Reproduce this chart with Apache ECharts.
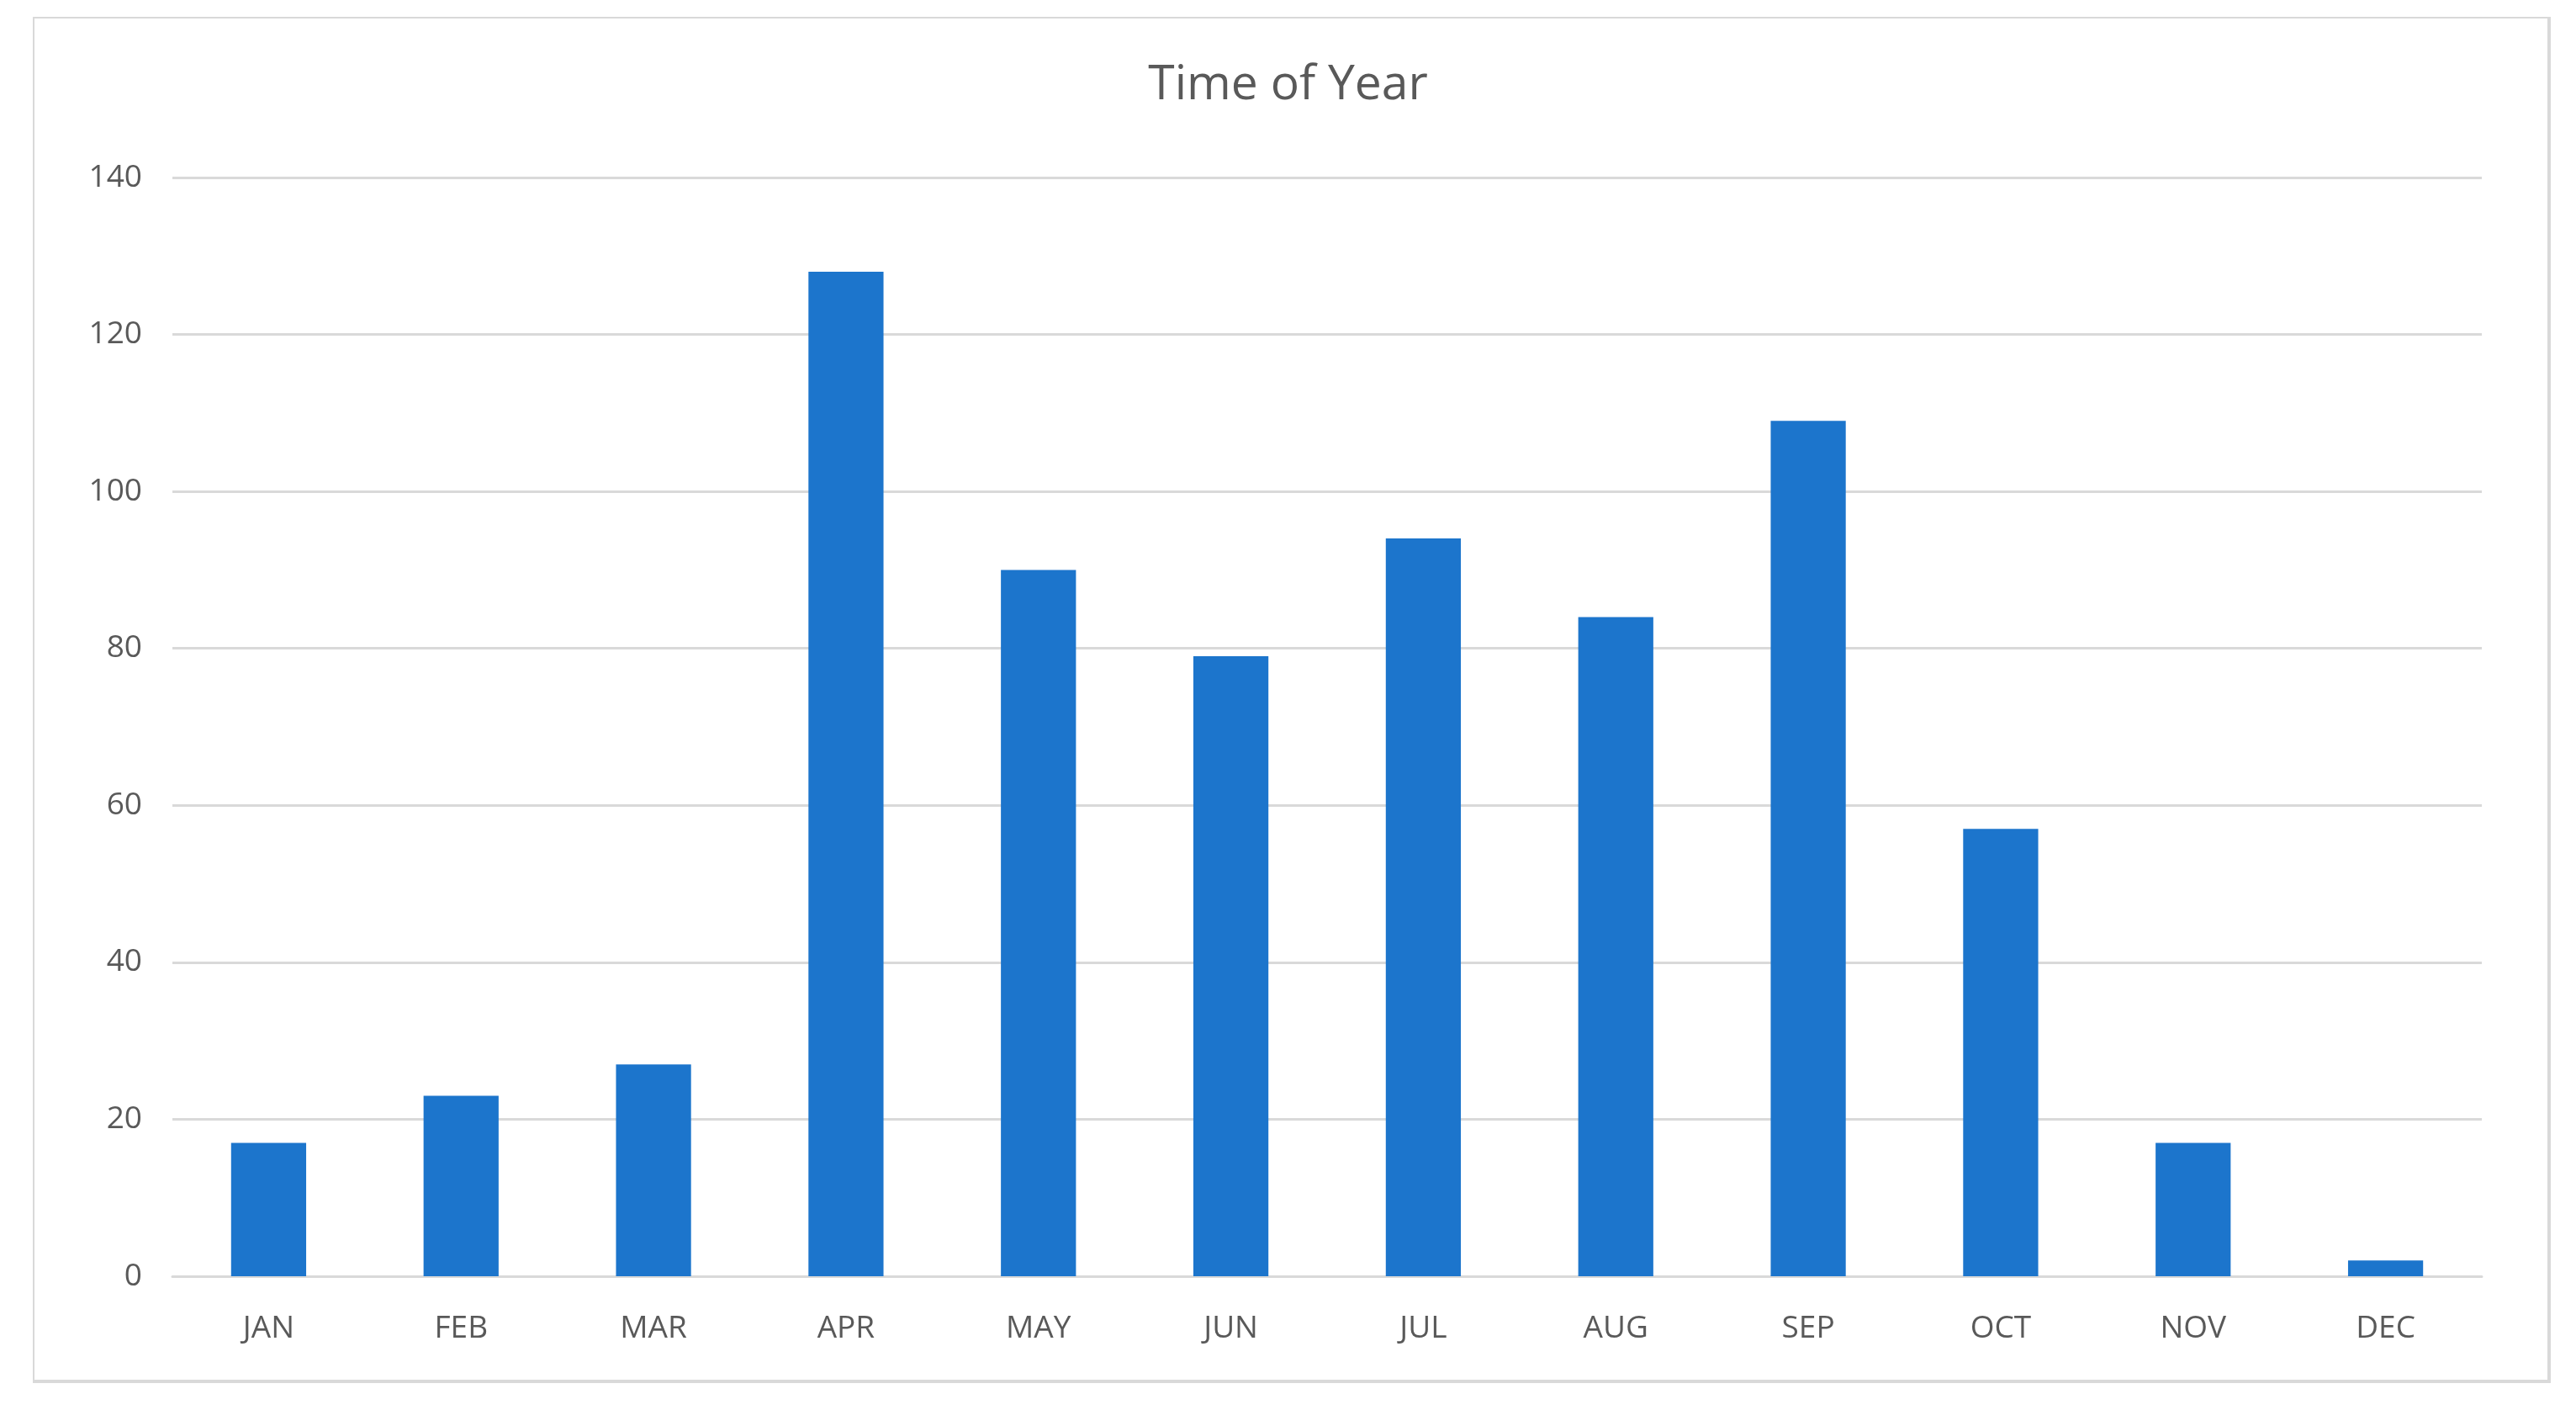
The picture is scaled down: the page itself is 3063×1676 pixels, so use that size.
<!DOCTYPE html>
<html>
<head>
<meta charset="utf-8">
<script src="https://cdn.jsdelivr.net/npm/echarts@6/dist/echarts.min.js"></script>
<style>
  html, body { margin: 0; padding: 0; background: #fff; }
  #frame {
    position: absolute; left: 39px; top: 20px; width: 2994px; height: 1624px;
    border: 2px solid #d9d9d9; border-right-width: 4px; border-bottom-width: 4px;
    box-sizing: border-box;
  }
  #chart { width: 3063px; height: 1676px; }
</style>
</head>
<body>
<div id="frame"></div>
<div id="chart"></div>
<script>
// data
var months = ['JAN', 'FEB', 'MAR', 'APR', 'MAY', 'JUN', 'JUL', 'AUG', 'SEP', 'OCT', 'NOV', 'DEC'];
var counts = [17, 23, 27, 128, 90, 79, 94, 84, 109, 57, 17, 2];
var yTicks = [0, 20, 40, 60, 80, 100, 120, 140];

var chart = echarts.init(document.getElementById('chart'), null, { renderer: 'canvas' });

var options = {
  backgroundColor: 'transparent',
  animation: false,
  title: {
    text: 'Time of Year',
    left: 'center',
    top: 68,
    textStyle: {
      fontFamily: 'Open Sans',
      fontSize: 57,
      fontWeight: 'normal',
      color: '#595959'
    }
  },
  grid: {
    left: 205,
    right: 112,
    top: 211,
    bottom: 159,
    containLabel: false
  },
  xAxis: {
    type: 'category',
    data: months,
    axisLine: { show: true, lineStyle: { color: '#d9d9d9', width: 3 } },
    axisTick: { show: false },
    axisLabel: {
      margin: 44,
      fontFamily: 'Open Sans',
      fontSize: 37,
      color: '#595959'
    }
  },
  yAxis: {
    type: 'value',
    min: yTicks[0],
    max: yTicks[yTicks.length - 1],
    interval: 20,
    axisLine: { show: false },
    axisTick: { show: false },
    splitLine: { lineStyle: { color: '#d9d9d9', width: 3 } },
    axisLabel: {
      margin: 36,
      fontFamily: 'Open Sans',
      fontSize: 37,
      color: '#595959'
    }
  },
  series: [
    {
      name: 'Time of Year',
      type: 'bar',
      data: counts,
      barWidth: '39%',
      itemStyle: {
        color: '#1c75cc'
      }
    }
  ]
};

chart.setOption(options);
</script>
</body>
</html>
